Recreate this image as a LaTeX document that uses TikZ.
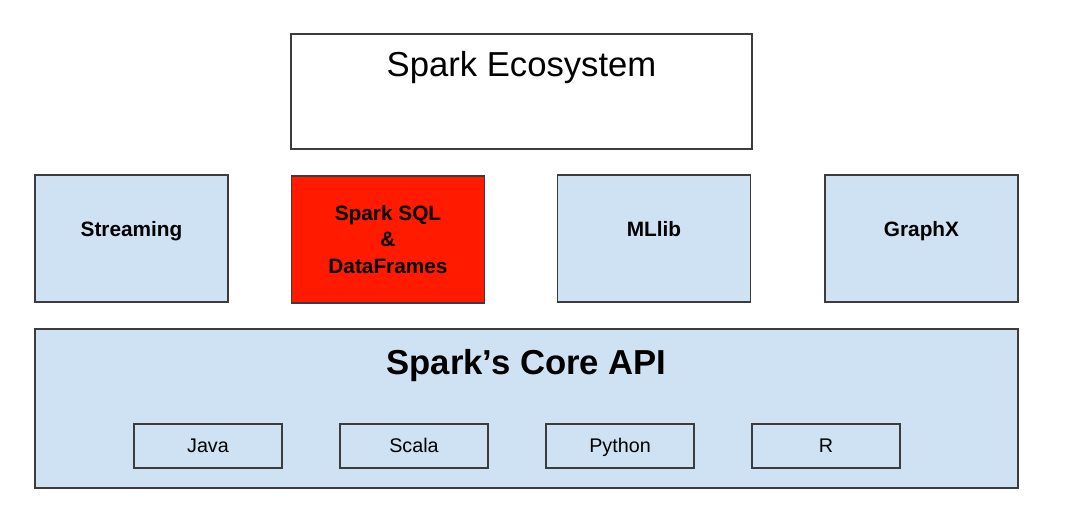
\documentclass[tikz,border=0pt]{standalone}
\usepackage{fontspec}
\setmainfont{Liberation Sans}
\usepackage{tikz}
\usetikzlibrary{positioning}
\definecolor{paleblue}{RGB}{207,226,243}
\definecolor{sparkred}{RGB}{255,26,0}
\definecolor{edge}{RGB}{60,60,60}
\tikzstyle{every node}+=[inner sep=0pt]
\tikzstyle{block} = [rectangle, draw=edge, line width=1.1pt, fill=paleblue, font=\fontsize{15.6}{19}\selectfont\bfseries, text centered, align=center, minimum width=145pt, minimum height=95pt]
\tikzstyle{lifted} = [text depth=15pt]
\tikzstyle{lang} = [rectangle, draw=edge, line width=1.1pt, font=\fontsize{14.8}{18}\selectfont, text centered, text height=12.1pt, text depth=1.9pt, minimum width=111pt, minimum height=33pt]
\begin{document}
\begin{tikzpicture}[x=0.75pt, y=-0.75pt]
            \useasboundingbox (0,0) rectangle (1066,513);
            % Top box
            \node [rectangle, draw=edge, line width=1.1pt, minimum width=345.75pt, minimum height=86.25pt] (eco) at (521.5,91.5) {};
            \node [font=\fontsize{26}{30}\selectfont, anchor=base] (ecotitle) at (521.5,77) {Spark Ecosystem};
            % Libraries
            \node [block, lifted] (stream) at (131.5,238.5) {Streaming};
            \node [block, fill=sparkred] (sql) at (388,239.5) {Spark SQL\\[1pt]\&\\[1pt]DataFrames};
            \node [block, lifted] (mllib) at (654,238.5) {MLlib};
            \node [block, lifted] (graphx) at (921.5,238.5) {GraphX};
            % Core API
            \node [block, minimum width=737.25pt, minimum height=119.25pt] (core) at (526.5,408.5) {};
            \node [font=\fontsize{26}{30}\selectfont\bfseries, anchor=base] (coretitle) at (526.5,374) {Spark’s Core API};
            \node [lang] (java) at (208,446) {Java};
            \node [lang, right=42.4pt of java] (scala) {Scala};
            \node [lang, right=42.4pt of scala] (python) {Python};
            \node [lang, right=42.4pt of python] (r) {R};
\end{tikzpicture}
\end{document}
